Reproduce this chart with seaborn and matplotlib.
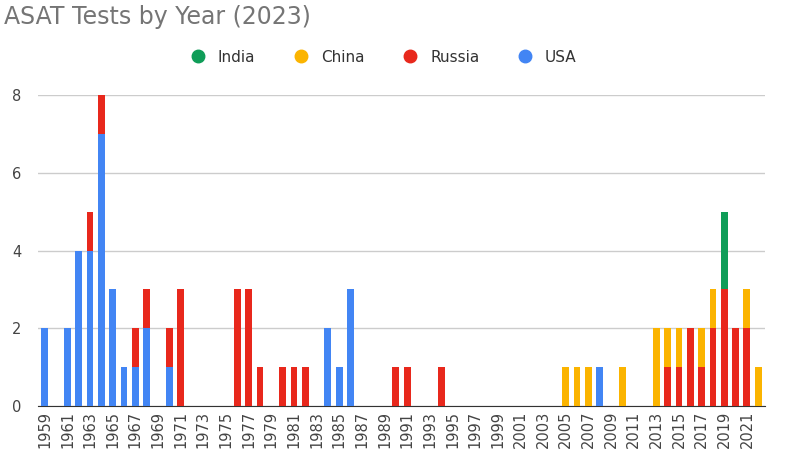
import matplotlib
matplotlib.use("Agg")
import matplotlib.pyplot as plt
import numpy as np
import pandas as pd
import seaborn as sns

years = list(range(1959, 2023))

usa = {1959: 2, 1961: 2, 1962: 4, 1963: 4, 1964: 7, 1965: 3, 1966: 1, 1967: 1,
       1968: 2, 1970: 1, 1984: 2, 1985: 1, 1986: 3, 2008: 1}
russia = {1963: 1, 1964: 1, 1967: 1, 1968: 1, 1970: 1, 1971: 3, 1976: 3, 1977: 3,
          1978: 1, 1980: 1, 1981: 1, 1982: 1, 1990: 1, 1991: 1, 1994: 1,
          2014: 1, 2015: 1, 2016: 2, 2017: 1, 2018: 2, 2019: 3, 2020: 2, 2021: 2}
china = {2005: 1, 2006: 1, 2007: 1, 2010: 1, 2013: 2, 2014: 1, 2015: 1,
         2017: 1, 2018: 1, 2021: 1, 2022: 1}
india = {2019: 2}

series = [("USA", usa, "#4285f4"), ("Russia", russia, "#e8281c"),
          ("China", china, "#fbb400"), ("India", india, "#0f9d58")]

labels = [str(y) for y in years]

fig = plt.figure(figsize=(7.91, 4.65), dpi=100)
ax = fig.add_axes([38 / 791, 1 - 406 / 465, (765 - 38) / 791, (406 - 95) / 465])

bottom = np.zeros(len(years))
handles = {}
for name, vals, color in series:
    v = np.array([vals.get(y, 0) for y in years], dtype=float)
    df = pd.DataFrame({"year": labels, "n": v})
    sns.barplot(data=df, x="year", y="n", order=labels, color=color, ax=ax,
                width=0.6, bottom=bottom, saturation=1, errorbar=None, zorder=3)
    handles[name] = plt.Line2D([], [], marker="o", ls="", color=color, markersize=9)
    bottom += v

ax.set_ylim(0, 8)
ax.set_xlim(-0.6, len(years) - 0.4)
ax.set_yticks([0, 2, 4, 6, 8])
ax.set_xticks(range(0, len(years), 2))
ax.set_xticklabels(labels[::2], rotation=90)
ax.tick_params(axis="both", length=0, labelsize=10.5, colors="#444444")
ax.tick_params(axis="y", pad=12)
ax.grid(axis="y", color="#cccccc", lw=1, zorder=0)
ax.set_axisbelow(True)
for s in ["top", "right", "left"]:
    ax.spines[s].set_visible(False)
ax.spines["bottom"].set_color("#333333")
ax.set_xlabel("")
ax.set_ylabel("")

order = ["India", "China", "Russia", "USA"]
fig.legend([handles[k] for k in order], order, loc="center", ncol=4,
           bbox_to_anchor=(0.48, 1 - 57 / 465), frameon=False, fontsize=11,
           labelcolor="#333333", handletextpad=0.3, columnspacing=2.0)
fig.text(0.005, 1 - 17 / 465, "ASAT Tests by Year (2023)", fontsize=17,
         color="#757575", va="center", ha="left")

fig.savefig("out.png", dpi=100)
